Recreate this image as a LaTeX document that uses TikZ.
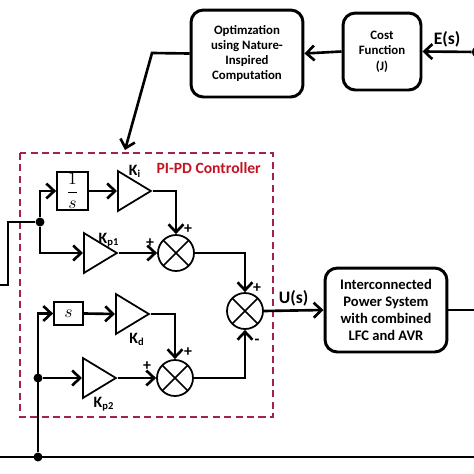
\documentclass[tikz,border=0pt]{standalone}
\usepackage{fontspec}
\setmainfont{Carlito}
\usetikzlibrary{arrows.meta,shapes.geometric}
\definecolor{framered}{RGB}{160,35,75}
\definecolor{labelred}{RGB}{195,20,35}
\tikzset{
	wire/.style={line width=1.5pt},
	sig/.style={wire, -{Straight Barb[length=4.5pt,width=8.5pt]}},
	block/.style={draw, line width=1.7pt, rounded corners=7pt, align=center, font=\fontsize{7.3}{8.7}\selectfont\bfseries},
	tfbox/.style={draw, line width=1pt, inner sep=0pt},
	gain/.style={draw, line width=1pt, isosceles triangle, isosceles triangle stretches, inner sep=0pt, minimum width=0.8cm, minimum height=0.66cm},
	summer/.style={draw, circle, line width=1pt, inner sep=0pt, minimum size=0.72cm,
		path picture={\draw[line width=1pt] (path picture bounding box.north west) -- (path picture bounding box.south east) (path picture bounding box.north east) -- (path picture bounding box.south west);}},
	dot/.style={circle, fill, inner sep=0pt, minimum size=0.18cm},
	klabel/.style={font=\fontsize{9}{10}\selectfont\bfseries},
	sign/.style={font=\fontsize{9}{10}\selectfont\bfseries, inner sep=0pt},
	sigtext/.style={font=\fontsize{10}{12}\selectfont\bfseries}
}
\begin{document}
\begin{tikzpicture}[x=0.02cm, y=-0.02cm]
	\fill[white] (0,0) rectangle (474,474);
	\useasboundingbox (0,0) rectangle (474,474);
	% upper loop
	\node[block, minimum width=2.24cm, minimum height=1.74cm] (opt) at (247,53.5) {Optimzation\\using Nature-\\Inspired\\Computation};
	\node[block, minimum width=1.56cm, minimum height=1.54cm] (cost) at (382,51.5) {Cost\\Function\\(J)};
	\node[dot, minimum size=0.24cm] (edot) at (478,52) {};
	\draw[sig] (edot) -- (cost.east) node[sigtext, midway, above, yshift=-1.5pt] {E(s)};
	\draw[sig] (cost.west) -- (opt.east);
	\coordinate (tune) at (125,150);
	\draw[sig] (opt.west) -- (152,53) -- (tune);
	% controller frame
	\draw[framered, line width=1.1pt, dash pattern=on 4pt off 2.5pt] (20,153) rectangle (273,417);
	\node[labelred, anchor=east, font=\fontsize{8.9}{10}\selectfont\bfseries] (title) at (267,168) {PI-PD Controller};
	% PI part
	\node[dot] (f1) at (40,222) {};
	\node[tfbox, minimum width=0.62cm, minimum height=0.76cm] (intg) at (72.5,191) {$\displaystyle\frac{1}{s}$};
	\node[gain, anchor=lower side] (ki) at (117,191) {};
	\node[gain, anchor=lower side] (kp1) at (83,253) {};
	\node[summer] (sa) at (176,253) {};
	\node[klabel] at (135,171) {K\textsubscript{i}};
	\node[klabel] at (109,240) {K\textsubscript{p1}};
	\draw[wire] (-5,285) -- (8,285) -- (8,222) -- (f1);
	\draw[sig] (f1) |- (intg.west);
	\draw[sig] (f1) |- (kp1.lower side);
	\draw[sig] (intg.east) -- (ki.lower side);
	\draw[sig] (ki.apex) -| (sa.north);
	\draw[sig] (kp1.apex) -- (sa.west);
	\node[sign] at (188,229) {+};
	\node[sign] at (150,243) {+};
	% PD part
	\node[dot] (f3) at (38,457) {};
	\node[dot] (f2) at (38,378) {};
	\node[tfbox, minimum width=0.58cm, minimum height=0.46cm] (diff) at (68.5,313.5) {$s$};
	\node[gain, anchor=lower side] (kd) at (115,314) {};
	\node[gain, anchor=lower side] (kp2) at (82,378) {};
	\node[summer] (sb) at (175,378) {};
	\node[klabel] at (137,339) {K\textsubscript{d}};
	\node[klabel] at (104,404) {K\textsubscript{p2}};
	\draw[wire] (-5,457) -- (480,457);
	\draw[sig] (f3) |- (diff.west);
	\draw[sig] (f2) -- (kp2.lower side);
	\draw[sig] (diff.east) -- (kd.lower side);
	\draw[sig] (kd.apex) -| (sb.north);
	\draw[sig] (kp2.apex) -- (sb.west);
	\node[sign] at (188,352) {+};
	\node[sign] at (147,366) {+};
	% sum and plant
	\node[summer] (sc) at (245,311) {};
	\node[block, font=\fontsize{8.3}{9.8}\selectfont\bfseries, minimum width=2.44cm, minimum height=1.68cm] (plant) at (386,310) {Interconnected\\Power System\\with combined\\LFC and AVR};
	\coordinate (pout) at (480,310);
	\draw[sig] (sa.east) -| (sc.north);
	\draw[sig] (sb.east) -| (sc.south);
	\draw[sig] (sc.east) -- (plant.west) node[sigtext, midway, above, yshift=-1.5pt] {U(s)};
	\draw[wire] (plant.east) -- (pout);
	\node[sign] at (257,288) {+};
	\node[sign] at (257,342) {-};
\end{tikzpicture}
\end{document}
